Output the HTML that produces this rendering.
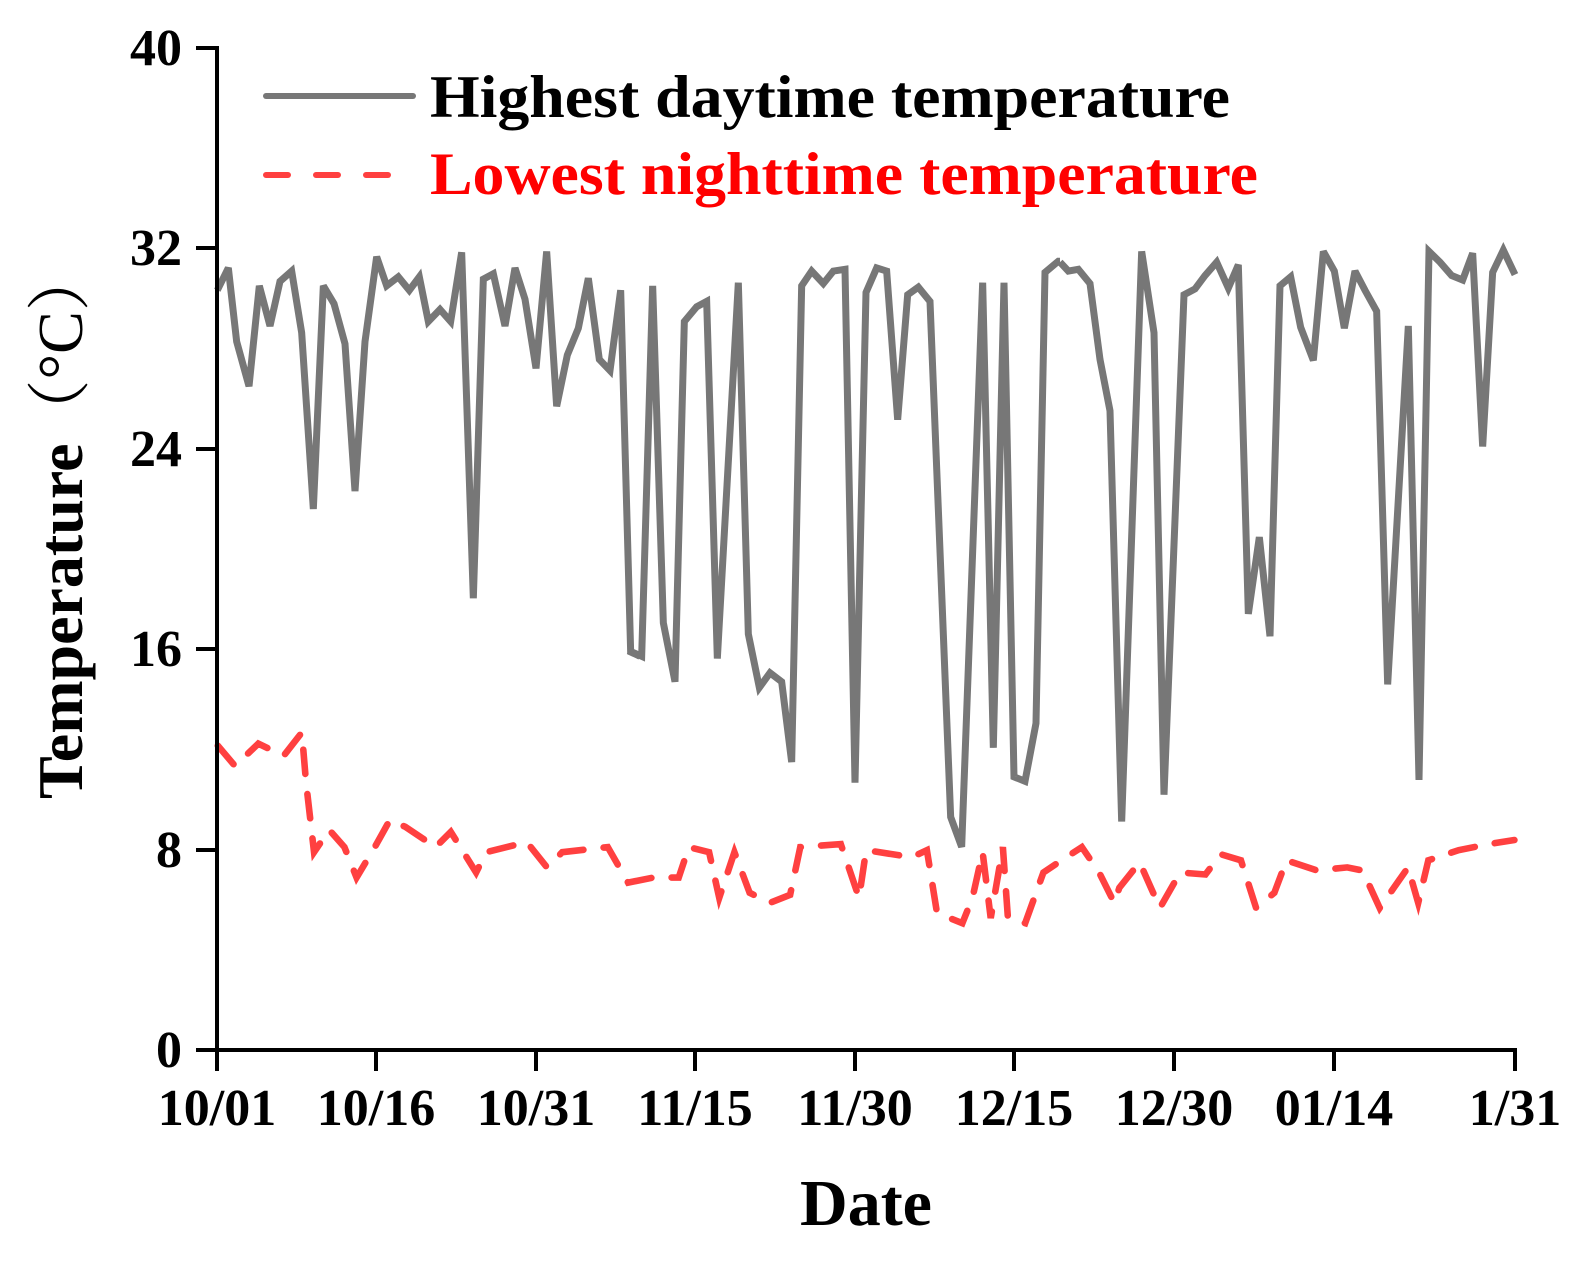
<!DOCTYPE html>
<html><head><meta charset="utf-8"><style>
html,body{margin:0;padding:0;background:#fff;}
svg{display:block;}
text{font-family:"Liberation Serif","Noto Serif CJK SC",serif;font-weight:bold;}
</style></head><body>
<svg width="1590" height="1261" viewBox="0 0 1590 1261" xmlns="http://www.w3.org/2000/svg">
<rect width="1590" height="1261" fill="#fff"/>
<g fill="none" stroke="#777" stroke-width="7" stroke-linejoin="miter" stroke-miterlimit="3">
<polyline vector-effect="non-scaling-stroke" transform="translate(210,230) scale(0.33333,0.4464)" points="22,135 55,85 80,250 117,350 148,125 180,215 210,115 245,92 275,230 310,625 340,125 372,165 405,255 435,585 465,250 500,60 530,125 565,105 598,135 628,105 655,205 690,178 722,205 755,50 790,825 820,110 850,98 885,215 915,85 945,155 978,310 1010,48 1040,395 1072,280 1105,220 1135,108 1168,290 1200,315 1232,135 1262,945 1290,955"/>
<polyline vector-effect="non-scaling-stroke" transform="translate(630,230) scale(0.33333,0.4464)" points="0,953 5,945 35,955 68,125 100,880 135,1012 163,205 200,172 230,160 262,960 325,118 355,905 388,1025 420,992 455,1012 485,1192 515,125 545,92 580,120 610,92 645,88 675,1238 708,140 740,85 770,92 803,425 833,145 865,128 900,160 962,1315 995,1382 1058,118 1090,1160 1122,118 1152,1225 1185,1235 1218,1105 1245,95 1285,70 1290,70"/>
<polyline vector-effect="non-scaling-stroke" transform="translate(1060,230) scale(0.33333,0.4464)" points="0,72 25,92 55,88 90,120 120,290 150,405 185,1325 245,48 282,230 312,1265 372,145 405,132 435,102 470,72 505,130 535,78 565,860 598,688 630,910 660,125 692,105 722,218 760,292 790,48 823,92 853,220 885,92 915,135 950,182 983,1018 1045,215 1077,1232 1107,48 1140,72 1175,102 1208,112 1238,52 1268,485 1298,95 1330,45 1365,100"/>
</g>
<g transform="scale(1.013,1.0145)">
<polyline fill="none" stroke="#ff4040" stroke-width="6.5" stroke-dasharray="24 20" stroke-linecap="round" points="215,735 232,755 255,733 280,745 298,722 302,770 310,840 325,818 340,835 352,865 370,835 385,808 400,815 430,835 445,820 470,860 480,840 520,830 540,855 555,840 600,835 620,870 645,865 670,865 680,835 700,840 710,885 725,840 740,880 760,890 780,882 790,835 830,832 848,885 855,838 900,845 915,838 925,900 950,910 960,885 970,840 978,905 990,835 995,905 1012,910 1030,860 1045,850 1068,835 1085,860 1100,890 1105,875 1125,850 1145,895 1165,860 1190,862 1205,842 1225,848 1240,895 1258,880 1270,848 1300,858 1330,855 1345,858 1362,895 1390,855 1400,890 1410,848 1440,838 1470,832 1495,828"/>
</g>
<g stroke="#000" stroke-width="4" fill="none">
<path d="M217,46 V1052 M215,1050 H1517"/>
<path d="M196,48 H217 M196,248 H217 M196,449 H217 M196,649 H217 M196,850 H217 M196,1050 H217"/>
<path d="M217,1050 V1071 M376,1050 V1071 M536,1050 V1071 M695,1050 V1071 M855,1050 V1071 M1014,1050 V1071 M1174,1050 V1071 M1334,1050 V1071 M1515,1050 V1071"/>
</g>
<g font-size="52" text-anchor="end" fill="#000">
<text x="182" y="65">40</text>
<text x="182" y="265">32</text>
<text x="182" y="466">24</text>
<text x="182" y="666">16</text>
<text x="182" y="867">8</text>
<text x="182" y="1067">0</text>
</g>
<g font-size="52" text-anchor="middle" fill="#000">
<text x="217" y="1125">10/01</text>
<text x="376" y="1125">10/16</text>
<text x="536" y="1125">10/31</text>
<text x="695" y="1125">11/15</text>
<text x="855" y="1125">11/30</text>
<text x="1014" y="1125">12/15</text>
<text x="1174" y="1125">12/30</text>
<text x="1334" y="1125">01/14</text>
<text x="1515" y="1125">1/31</text>
</g>
<text x="866" y="1225" font-size="66" text-anchor="middle">Date</text>
<text transform="translate(82,799) rotate(-90)" font-size="64">Temperature<tspan font-weight="normal">（°C）</tspan></text>
<line x1="266" y1="96" x2="413" y2="96" stroke="#777" stroke-width="6" stroke-linecap="round"/>
<line x1="266" y1="175" x2="400" y2="175" stroke="#ff4040" stroke-width="6" stroke-linecap="round" stroke-dasharray="22 28"/>
<text x="430" y="117" font-size="60" fill="#000" textLength="800" lengthAdjust="spacingAndGlyphs">Highest daytime temperature</text>
<text x="430" y="194" font-size="60" fill="#ff0000" textLength="828" lengthAdjust="spacingAndGlyphs">Lowest nighttime temperature</text>
</svg>
</body></html>
